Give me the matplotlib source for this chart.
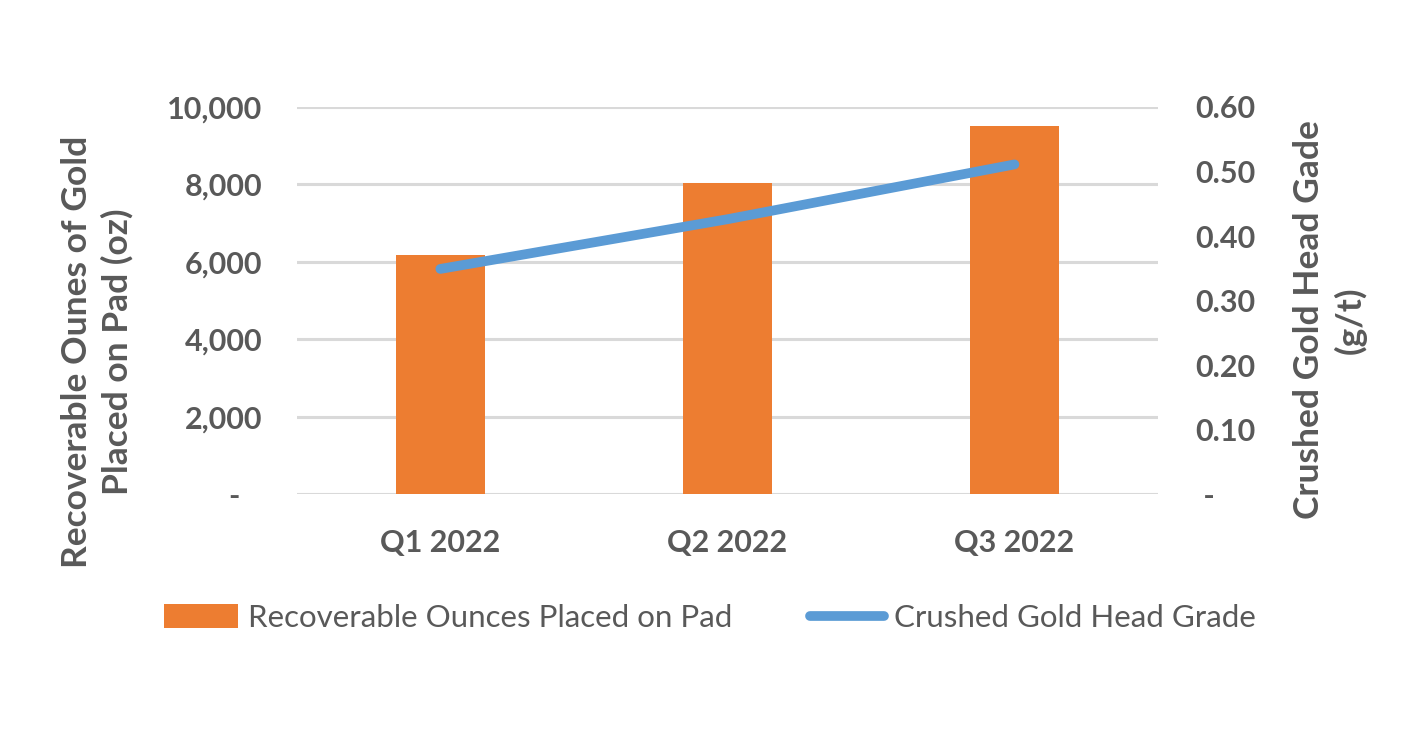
import matplotlib.pyplot as plt
import numpy as np
from matplotlib.ticker import FuncFormatter

plt.rcParams['font.family'] = ['Lato', 'DejaVu Sans']

# data
quarters = ['Q1 2022', 'Q2 2022', 'Q3 2022']
ounces = [6170, 8030, 9520]
head_grade = [0.349, 0.426, 0.511]

bar_color = '#ED7D31'
line_color = '#5B9BD5'
text_color = '#595959'
grid_color = '#D9D9D9'

fig = plt.figure(figsize=(14.2, 7.43), dpi=100)
ax = fig.add_axes([0.209, 0.335, 0.6065, 0.521])
ax2 = ax.twinx()

x = np.arange(len(quarters))
ax.bar(x, ounces, width=0.31, color=bar_color, zorder=2,
       label='Recoverable Ounces Placed on Pad')
ax2.plot(x, head_grade, color=line_color, linewidth=7, solid_capstyle='round',
         zorder=3, label='Crushed Gold Head Grade')

ax.set_xlim(-0.5, len(quarters) - 0.5)
ax.set_ylim(0, 10000)
ax2.set_ylim(0, 0.6)
ax.set_yticks(np.arange(0, 10001, 2000))
ax2.set_yticks(np.arange(0, 0.61, 0.1))

# gridlines (left axis)
for yv in ax.get_yticks():
    ax.axhline(yv, color=grid_color, linewidth=2.2, zorder=1)

# accounting style: zero shown as an indented dash
ax.yaxis.set_major_formatter(FuncFormatter(lambda v, p: '-   ' if v == 0 else f'{v:,.0f}'))
ax2.yaxis.set_major_formatter(FuncFormatter(lambda v, p: ' -' if abs(v) < 1e-9 else f'{v:.2f}'))

ax.set_xticks(x)
ax.set_xticklabels(quarters)

for a in (ax, ax2):
    for s in a.spines.values():
        s.set_visible(False)
    a.tick_params(length=0, colors=text_color, labelsize=22)
    for lab in a.get_yticklabels() + a.get_xticklabels():
        lab.set_fontweight('bold')

ax.tick_params(axis='x', pad=25)
ax.tick_params(axis='y', pad=25)
ax2.tick_params(axis='y', pad=27)
ax2.set_zorder(ax.get_zorder() + 1)
ax2.patch.set_visible(False)

# axis titles, placed like the original (a bit below the axes centre)
fig.text(97 / 1420, 1 - 352 / 743, 'Recoverable Ounes of Gold\nPlaced on Pad (oz)',
         rotation=90, ha='center', va='center', multialignment='center',
         fontsize=25.5, fontweight='bold', color=text_color, linespacing=1.3)
fig.text(1330 / 1420, 1 - 320 / 743, 'Crushed Gold Head Gade\n(g/t)',
         rotation=90, ha='center', va='center', multialignment='center',
         fontsize=25.5, fontweight='bold', color=text_color, linespacing=1.3)

h1, l1 = ax.get_legend_handles_labels()
h2, l2 = ax2.get_legend_handles_labels()
fig.legend(h1 + h2, l1 + l2, loc='center', bbox_to_anchor=(0.5, 0.168), ncol=2,
           frameon=False, fontsize=22.5, labelcolor=text_color, handlelength=2.35,
           handleheight=0.8, handletextpad=0.32, columnspacing=2.5)

fig.savefig('out.png', dpi=100, facecolor='white')
